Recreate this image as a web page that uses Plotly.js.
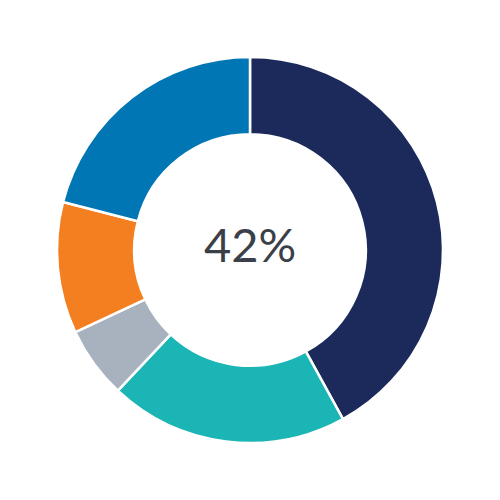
<!DOCTYPE html>
<html>
<head>
<meta charset="utf-8">
<script src="https://cdn.plot.ly/plotly-3.0.1.min.js"></script>
<style>
  body { margin: 0; background: #fff; }
  #graph { width: 500px; height: 500px; }
</style>
</head>
<body>
<div id="graph"></div>
<script>
// slices, clockwise from 12 o'clock
var labels = ['Navy', 'Teal', 'Gray', 'Orange', 'Blue'];
var values = [42, 20, 6, 11, 21];
var colors = ['#1b2a5b', '#1bb5b5', '#a8b2be', '#f47f20', '#0176b4'];
var centerText = '42%';

var data = [{
    type: 'pie',
    labels: labels,
    values: values,
    hole: 0.6,
    sort: false,
    direction: 'clockwise',
    rotation: 0,
    textinfo: 'none',
    hoverinfo: 'none',
    marker: {
        colors: colors,
        line: {color: '#ffffff', width: 2.5}
    }
}];

var layout = {
    width: 500,
    height: 500,
    margin: {l: 57, r: 57, t: 57, b: 57},
    showlegend: false,
    paper_bgcolor: '#ffffff',
    annotations: [{
        text: centerText,
        x: 0.5, y: 0.5,
        xref: 'paper', yref: 'paper',
        yshift: 6,
        showarrow: false,
        font: {family: 'Lato, sans-serif', size: 47, color: '#3b4048'}
    }]
};

Plotly.newPlot('graph', data, layout, {staticPlot: true});
</script>
</body>
</html>
